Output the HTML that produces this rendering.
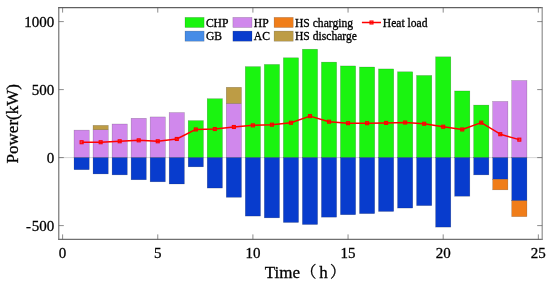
<!DOCTYPE html>
<html><head><meta charset="utf-8"><title>Heat power balance</title>
<style>
html,body{margin:0;padding:0;background:#fff;}
body{width:550px;height:285px;overflow:hidden;}
svg{display:block;font-family:"Liberation Serif","Noto Serif CJK SC",serif;}
svg text{fill:#000;stroke:#000;stroke-width:0.3px;}
.cjk{font-family:"Noto Serif CJK SC","Liberation Serif",serif;}
</style></head><body>
<svg width="550" height="285" viewBox="0 0 550 285">
<rect width="550" height="285" fill="#fff"/>
<line x1="58.8" y1="157.6" x2="542.2" y2="157.6" stroke="#c4c4c4" stroke-width="0.7"/>
<g>
<rect x="74.03" y="130.13" width="15.20" height="27.47" fill="#D088EC" stroke="#000" stroke-opacity="0.3" stroke-width="0.5"/>
<rect x="93.06" y="129.72" width="15.20" height="27.88" fill="#D088EC" stroke="#000" stroke-opacity="0.3" stroke-width="0.5"/>
<rect x="112.09" y="124.01" width="15.20" height="33.59" fill="#D088EC" stroke="#000" stroke-opacity="0.3" stroke-width="0.5"/>
<rect x="131.12" y="118.30" width="15.20" height="39.30" fill="#D088EC" stroke="#000" stroke-opacity="0.3" stroke-width="0.5"/>
<rect x="150.15" y="116.94" width="15.20" height="40.66" fill="#D088EC" stroke="#000" stroke-opacity="0.3" stroke-width="0.5"/>
<rect x="169.18" y="112.58" width="15.20" height="45.02" fill="#D088EC" stroke="#000" stroke-opacity="0.3" stroke-width="0.5"/>
<rect x="226.27" y="103.47" width="15.20" height="54.13" fill="#D088EC" stroke="#000" stroke-opacity="0.3" stroke-width="0.5"/>
<rect x="492.69" y="101.43" width="15.20" height="56.17" fill="#D088EC" stroke="#000" stroke-opacity="0.3" stroke-width="0.5"/>
<rect x="511.72" y="80.49" width="15.20" height="77.11" fill="#D088EC" stroke="#000" stroke-opacity="0.3" stroke-width="0.5"/>
<rect x="188.21" y="120.61" width="15.20" height="36.99" fill="#1AF410" stroke="#000" stroke-opacity="0.3" stroke-width="0.5"/>
<rect x="207.24" y="98.71" width="15.20" height="58.89" fill="#1AF410" stroke="#000" stroke-opacity="0.3" stroke-width="0.5"/>
<rect x="245.30" y="66.62" width="15.20" height="90.98" fill="#1AF410" stroke="#000" stroke-opacity="0.3" stroke-width="0.5"/>
<rect x="264.33" y="64.44" width="15.20" height="93.16" fill="#1AF410" stroke="#000" stroke-opacity="0.3" stroke-width="0.5"/>
<rect x="283.36" y="57.78" width="15.20" height="99.82" fill="#1AF410" stroke="#000" stroke-opacity="0.3" stroke-width="0.5"/>
<rect x="302.39" y="49.21" width="15.20" height="108.39" fill="#1AF410" stroke="#000" stroke-opacity="0.3" stroke-width="0.5"/>
<rect x="321.42" y="62.13" width="15.20" height="95.47" fill="#1AF410" stroke="#000" stroke-opacity="0.3" stroke-width="0.5"/>
<rect x="340.45" y="65.94" width="15.20" height="91.66" fill="#1AF410" stroke="#000" stroke-opacity="0.3" stroke-width="0.5"/>
<rect x="359.48" y="67.02" width="15.20" height="90.58" fill="#1AF410" stroke="#000" stroke-opacity="0.3" stroke-width="0.5"/>
<rect x="378.51" y="68.93" width="15.20" height="88.67" fill="#1AF410" stroke="#000" stroke-opacity="0.3" stroke-width="0.5"/>
<rect x="397.54" y="71.78" width="15.20" height="85.82" fill="#1AF410" stroke="#000" stroke-opacity="0.3" stroke-width="0.5"/>
<rect x="416.57" y="75.46" width="15.20" height="82.14" fill="#1AF410" stroke="#000" stroke-opacity="0.3" stroke-width="0.5"/>
<rect x="435.60" y="56.82" width="15.20" height="100.78" fill="#1AF410" stroke="#000" stroke-opacity="0.3" stroke-width="0.5"/>
<rect x="454.63" y="90.96" width="15.20" height="66.64" fill="#1AF410" stroke="#000" stroke-opacity="0.3" stroke-width="0.5"/>
<rect x="473.66" y="105.10" width="15.20" height="52.50" fill="#1AF410" stroke="#000" stroke-opacity="0.3" stroke-width="0.5"/>
<rect x="93.06" y="125.37" width="15.20" height="4.35" fill="#BD9C45" stroke="#000" stroke-opacity="0.3" stroke-width="0.5"/>
<rect x="226.27" y="87.29" width="15.20" height="16.18" fill="#BD9C45" stroke="#000" stroke-opacity="0.3" stroke-width="0.5"/>
<rect x="74.03" y="157.60" width="15.20" height="12.10" fill="#083CCD" stroke="#000" stroke-opacity="0.3" stroke-width="0.5"/>
<rect x="93.06" y="157.60" width="15.20" height="16.32" fill="#083CCD" stroke="#000" stroke-opacity="0.3" stroke-width="0.5"/>
<rect x="112.09" y="157.60" width="15.20" height="17.27" fill="#083CCD" stroke="#000" stroke-opacity="0.3" stroke-width="0.5"/>
<rect x="131.12" y="157.60" width="15.20" height="22.17" fill="#083CCD" stroke="#000" stroke-opacity="0.3" stroke-width="0.5"/>
<rect x="150.15" y="157.60" width="15.20" height="24.21" fill="#083CCD" stroke="#000" stroke-opacity="0.3" stroke-width="0.5"/>
<rect x="169.18" y="157.60" width="15.20" height="26.38" fill="#083CCD" stroke="#000" stroke-opacity="0.3" stroke-width="0.5"/>
<rect x="188.21" y="157.60" width="15.20" height="9.25" fill="#083CCD" stroke="#000" stroke-opacity="0.3" stroke-width="0.5"/>
<rect x="207.24" y="157.60" width="15.20" height="30.46" fill="#083CCD" stroke="#000" stroke-opacity="0.3" stroke-width="0.5"/>
<rect x="226.27" y="157.60" width="15.20" height="39.71" fill="#083CCD" stroke="#000" stroke-opacity="0.3" stroke-width="0.5"/>
<rect x="245.30" y="157.60" width="15.20" height="58.48" fill="#083CCD" stroke="#000" stroke-opacity="0.3" stroke-width="0.5"/>
<rect x="264.33" y="157.60" width="15.20" height="60.25" fill="#083CCD" stroke="#000" stroke-opacity="0.3" stroke-width="0.5"/>
<rect x="283.36" y="157.60" width="15.20" height="64.87" fill="#083CCD" stroke="#000" stroke-opacity="0.3" stroke-width="0.5"/>
<rect x="302.39" y="157.60" width="15.20" height="66.91" fill="#083CCD" stroke="#000" stroke-opacity="0.3" stroke-width="0.5"/>
<rect x="321.42" y="157.60" width="15.20" height="59.57" fill="#083CCD" stroke="#000" stroke-opacity="0.3" stroke-width="0.5"/>
<rect x="340.45" y="157.60" width="15.20" height="57.12" fill="#083CCD" stroke="#000" stroke-opacity="0.3" stroke-width="0.5"/>
<rect x="359.48" y="157.60" width="15.20" height="56.03" fill="#083CCD" stroke="#000" stroke-opacity="0.3" stroke-width="0.5"/>
<rect x="378.51" y="157.60" width="15.20" height="53.86" fill="#083CCD" stroke="#000" stroke-opacity="0.3" stroke-width="0.5"/>
<rect x="397.54" y="157.60" width="15.20" height="50.46" fill="#083CCD" stroke="#000" stroke-opacity="0.3" stroke-width="0.5"/>
<rect x="416.57" y="157.60" width="15.20" height="48.01" fill="#083CCD" stroke="#000" stroke-opacity="0.3" stroke-width="0.5"/>
<rect x="435.60" y="157.60" width="15.20" height="69.50" fill="#083CCD" stroke="#000" stroke-opacity="0.3" stroke-width="0.5"/>
<rect x="454.63" y="157.60" width="15.20" height="38.62" fill="#083CCD" stroke="#000" stroke-opacity="0.3" stroke-width="0.5"/>
<rect x="473.66" y="157.60" width="15.20" height="17.27" fill="#083CCD" stroke="#000" stroke-opacity="0.3" stroke-width="0.5"/>
<rect x="492.69" y="157.60" width="15.20" height="21.62" fill="#083CCD" stroke="#000" stroke-opacity="0.3" stroke-width="0.5"/>
<rect x="511.72" y="157.60" width="15.20" height="43.11" fill="#083CCD" stroke="#000" stroke-opacity="0.3" stroke-width="0.5"/>
<rect x="492.69" y="179.22" width="15.20" height="10.61" fill="#F07D19" stroke="#000" stroke-opacity="0.3" stroke-width="0.5"/>
<rect x="511.72" y="200.71" width="15.20" height="15.91" fill="#F07D19" stroke="#000" stroke-opacity="0.3" stroke-width="0.5"/>
</g>
<polyline points="81.63,142.23 100.66,142.23 119.69,141.28 138.72,140.33 157.75,141.28 176.78,138.97 195.81,129.45 214.84,129.04 233.87,127.00 252.90,125.37 271.93,124.69 290.96,122.78 309.99,116.12 329.02,121.70 348.05,123.19 367.08,123.19 386.11,122.92 405.14,122.51 424.17,123.74 443.20,126.73 462.23,129.45 481.26,122.65 500.29,134.21 519.32,139.65" fill="none" stroke="#FF0000" stroke-width="1.5" stroke-linejoin="round"/>
<rect x="80.13" y="140.73" width="3" height="3" fill="#FF0000" fill-opacity="0.45" stroke="#FF0000" stroke-width="1.1"/>
<rect x="99.16" y="140.73" width="3" height="3" fill="#FF0000" fill-opacity="0.45" stroke="#FF0000" stroke-width="1.1"/>
<rect x="118.19" y="139.78" width="3" height="3" fill="#FF0000" fill-opacity="0.45" stroke="#FF0000" stroke-width="1.1"/>
<rect x="137.22" y="138.83" width="3" height="3" fill="#FF0000" fill-opacity="0.45" stroke="#FF0000" stroke-width="1.1"/>
<rect x="156.25" y="139.78" width="3" height="3" fill="#FF0000" fill-opacity="0.45" stroke="#FF0000" stroke-width="1.1"/>
<rect x="175.28" y="137.47" width="3" height="3" fill="#FF0000" fill-opacity="0.45" stroke="#FF0000" stroke-width="1.1"/>
<rect x="194.31" y="127.95" width="3" height="3" fill="#FF0000" fill-opacity="0.45" stroke="#FF0000" stroke-width="1.1"/>
<rect x="213.34" y="127.54" width="3" height="3" fill="#FF0000" fill-opacity="0.45" stroke="#FF0000" stroke-width="1.1"/>
<rect x="232.37" y="125.50" width="3" height="3" fill="#FF0000" fill-opacity="0.45" stroke="#FF0000" stroke-width="1.1"/>
<rect x="251.40" y="123.87" width="3" height="3" fill="#FF0000" fill-opacity="0.45" stroke="#FF0000" stroke-width="1.1"/>
<rect x="270.43" y="123.19" width="3" height="3" fill="#FF0000" fill-opacity="0.45" stroke="#FF0000" stroke-width="1.1"/>
<rect x="289.46" y="121.28" width="3" height="3" fill="#FF0000" fill-opacity="0.45" stroke="#FF0000" stroke-width="1.1"/>
<rect x="308.49" y="114.62" width="3" height="3" fill="#FF0000" fill-opacity="0.45" stroke="#FF0000" stroke-width="1.1"/>
<rect x="327.52" y="120.20" width="3" height="3" fill="#FF0000" fill-opacity="0.45" stroke="#FF0000" stroke-width="1.1"/>
<rect x="346.55" y="121.69" width="3" height="3" fill="#FF0000" fill-opacity="0.45" stroke="#FF0000" stroke-width="1.1"/>
<rect x="365.58" y="121.69" width="3" height="3" fill="#FF0000" fill-opacity="0.45" stroke="#FF0000" stroke-width="1.1"/>
<rect x="384.61" y="121.42" width="3" height="3" fill="#FF0000" fill-opacity="0.45" stroke="#FF0000" stroke-width="1.1"/>
<rect x="403.64" y="121.01" width="3" height="3" fill="#FF0000" fill-opacity="0.45" stroke="#FF0000" stroke-width="1.1"/>
<rect x="422.67" y="122.24" width="3" height="3" fill="#FF0000" fill-opacity="0.45" stroke="#FF0000" stroke-width="1.1"/>
<rect x="441.70" y="125.23" width="3" height="3" fill="#FF0000" fill-opacity="0.45" stroke="#FF0000" stroke-width="1.1"/>
<rect x="460.73" y="127.95" width="3" height="3" fill="#FF0000" fill-opacity="0.45" stroke="#FF0000" stroke-width="1.1"/>
<rect x="479.76" y="121.15" width="3" height="3" fill="#FF0000" fill-opacity="0.45" stroke="#FF0000" stroke-width="1.1"/>
<rect x="498.79" y="132.71" width="3" height="3" fill="#FF0000" fill-opacity="0.45" stroke="#FF0000" stroke-width="1.1"/>
<rect x="517.82" y="138.15" width="3" height="3" fill="#FF0000" fill-opacity="0.45" stroke="#FF0000" stroke-width="1.1"/>
<line x1="58.8" y1="7.1" x2="58.8" y2="239.9" stroke="#606060" stroke-width="1.05"/>
<line x1="58.3" y1="7.6" x2="542.7" y2="7.6" stroke="#606060" stroke-width="1.05"/>
<line x1="58.3" y1="239.4" x2="542.7" y2="239.4" stroke="#707070" stroke-width="1.1"/>
<line x1="542.2" y1="7.1" x2="542.2" y2="239.9" stroke="#909090" stroke-width="1.2"/>
<line x1="62.60" y1="239.4" x2="62.60" y2="234.4" stroke="#5a5a5a" stroke-width="0.7"/>
<line x1="62.60" y1="7.6" x2="62.60" y2="12.6" stroke="#5a5a5a" stroke-width="0.7"/>
<text x="62.60" y="257.6" font-size="15" text-anchor="middle">0</text>
<line x1="157.75" y1="239.4" x2="157.75" y2="234.4" stroke="#5a5a5a" stroke-width="0.7"/>
<line x1="157.75" y1="7.6" x2="157.75" y2="12.6" stroke="#5a5a5a" stroke-width="0.7"/>
<text x="157.75" y="257.6" font-size="15" text-anchor="middle">5</text>
<line x1="252.90" y1="239.4" x2="252.90" y2="234.4" stroke="#5a5a5a" stroke-width="0.7"/>
<line x1="252.90" y1="7.6" x2="252.90" y2="12.6" stroke="#5a5a5a" stroke-width="0.7"/>
<text x="252.90" y="257.6" font-size="15" text-anchor="middle">10</text>
<line x1="348.05" y1="239.4" x2="348.05" y2="234.4" stroke="#5a5a5a" stroke-width="0.7"/>
<line x1="348.05" y1="7.6" x2="348.05" y2="12.6" stroke="#5a5a5a" stroke-width="0.7"/>
<text x="348.05" y="257.6" font-size="15" text-anchor="middle">15</text>
<line x1="443.20" y1="239.4" x2="443.20" y2="234.4" stroke="#5a5a5a" stroke-width="0.7"/>
<line x1="443.20" y1="7.6" x2="443.20" y2="12.6" stroke="#5a5a5a" stroke-width="0.7"/>
<text x="443.20" y="257.6" font-size="15" text-anchor="middle">20</text>
<line x1="538.35" y1="239.4" x2="538.35" y2="234.4" stroke="#5a5a5a" stroke-width="0.7"/>
<line x1="538.35" y1="7.6" x2="538.35" y2="12.6" stroke="#5a5a5a" stroke-width="0.7"/>
<text x="538.35" y="257.6" font-size="15" text-anchor="middle">25</text>
<line x1="58.8" y1="225.60" x2="63.8" y2="225.60" stroke="#5a5a5a" stroke-width="0.7"/>
<line x1="542.2" y1="225.60" x2="537.2" y2="225.60" stroke="#5a5a5a" stroke-width="0.7"/>
<text x="54.2" y="230.70" dx="0 0.8" font-size="15" text-anchor="end">-500</text>
<line x1="58.8" y1="157.60" x2="63.8" y2="157.60" stroke="#5a5a5a" stroke-width="0.7"/>
<line x1="542.2" y1="157.60" x2="537.2" y2="157.60" stroke="#5a5a5a" stroke-width="0.7"/>
<text x="54.2" y="162.70" font-size="15" text-anchor="end">0</text>
<line x1="58.8" y1="89.60" x2="63.8" y2="89.60" stroke="#5a5a5a" stroke-width="0.7"/>
<line x1="542.2" y1="89.60" x2="537.2" y2="89.60" stroke="#5a5a5a" stroke-width="0.7"/>
<text x="54.2" y="94.70" font-size="15" text-anchor="end">500</text>
<line x1="58.8" y1="21.60" x2="63.8" y2="21.60" stroke="#5a5a5a" stroke-width="0.7"/>
<line x1="542.2" y1="21.60" x2="537.2" y2="21.60" stroke="#5a5a5a" stroke-width="0.7"/>
<text x="54.2" y="26.70" font-size="15" text-anchor="end">1000</text>
<text transform="translate(17.6,163.4) rotate(-90)" font-size="17">Power(kW)</text>
<text x="264.8" y="277.6" font-size="17">Time<tspan class="cjk" x="300.85" y="277.0" font-size="15.7">（</tspan><tspan x="319.3" y="277.6">h</tspan><tspan class="cjk" x="329.9" y="277.0" font-size="15.7">）</tspan></text>
<rect x="185.0" y="17.4" width="19.1" height="10.1" fill="#1AF410" stroke="#000" stroke-opacity="0.3" stroke-width="0.5"/><text x="205.9" y="26.75" font-size="11.6">CHP</text>
<rect x="185.0" y="31.1" width="19.1" height="10.1" fill="#468CE6" stroke="#000" stroke-opacity="0.3" stroke-width="0.5"/><text x="205.9" y="40.1" font-size="11.6">GB</text>
<rect x="232.9" y="17.4" width="19.1" height="10.1" fill="#D088EC" stroke="#000" stroke-opacity="0.3" stroke-width="0.5"/><text x="253.8" y="26.75" font-size="11.6">HP</text>
<rect x="232.9" y="31.1" width="19.1" height="10.1" fill="#083CCD" stroke="#000" stroke-opacity="0.3" stroke-width="0.5"/><text x="253.8" y="40.1" font-size="11.6">AC</text>
<rect x="274.1" y="17.4" width="19.1" height="10.1" fill="#F07D19" stroke="#000" stroke-opacity="0.3" stroke-width="0.5"/><text x="295.0" y="26.75" font-size="11.6">HS charging</text>
<rect x="274.1" y="31.1" width="19.1" height="10.1" fill="#BD9C45" stroke="#000" stroke-opacity="0.3" stroke-width="0.5"/><text x="295.0" y="40.1" font-size="11.6">HS discharge</text>
<line x1="361.9" y1="22.5" x2="381" y2="22.5" stroke="#FF0000" stroke-width="1.5"/>
<rect x="370" y="21" width="3" height="3" fill="#FF0000" fill-opacity="0.45" stroke="#FF0000" stroke-width="1.1"/>
<text x="382.8" y="26.75" font-size="11.6">Heat load</text>
</svg></body></html>
